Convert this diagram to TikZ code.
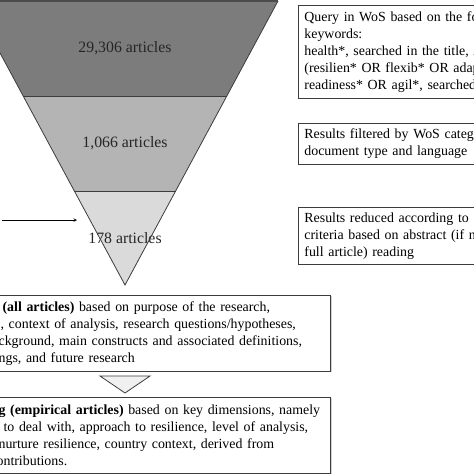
\documentclass[tikz,border=0pt]{standalone}
\usepackage{fontspec}
\setmainfont{Liberation Serif}
\usetikzlibrary{positioning}
\usetikzlibrary{shadows}

\definecolor{bandtop}{HTML}{7C7C7C}
\definecolor{bandmid}{HTML}{B4B4B4}
\definecolor{bandlow}{HTML}{DADADA}
\definecolor{edgegray}{HTML}{3C3C3C}

\begin{document}
\begin{tikzpicture}[x=1pt, y=-1pt, >=stealth,
    note/.style={draw=edgegray, line width=0.8pt, fill=white, align=left,
      inner xsep=6pt, inner ysep=0pt, font=\fontsize{13.9}{17}\selectfont,
      drop shadow={shadow xshift=1pt, shadow yshift=-1pt, fill=black!35}},
    count/.style={font=\fontsize{15.8}{18}\selectfont, text=black!85}]
        \useasboundingbox (0,0) rectangle (474,474);
        \clip (0,0) rectangle (474,474);

        % Funnel bands
        \fill[bandtop] (-28,1) -- (278,1) -- (226.8,96) -- (23.2,96) -- cycle;
        \fill[bandmid] (23.2,96) -- (226.8,96) -- (175.6,191) -- (74.4,191) -- cycle;
        \fill[bandlow] (74.4,191) -- (175.6,191) -- (125,285) -- cycle;

        % Counts
        \node[count] (all) at (125,48) {29,306 articles};
        \node[count] (filtered) at (125,143) {1,066 articles};
        \node[count] (reduced) at (125,238) {178 articles};

        % Funnel outline
        \draw[edgegray, line width=0.8pt] (-28,1) -- (125,285) -- (278,1);
        \draw[edgegray, line width=0.8pt] (23.2,96) -- (226.8,96);
        \draw[edgegray, line width=0.8pt] (74.4,191) -- (175.6,191);
        \draw[black!70, line width=2.5pt] (-28,1) -- (278,1);

        % Steps
        \node[note, anchor=north west, text width=300pt, minimum height=93pt] (query) at (298,5)
          {Query in WoS based on the following\\keywords:\\health*, searched in the title, AND\\(resilien* OR flexib* OR adapt* OR\\readiness* OR agil*, searched in the title};
        \node[note, anchor=north west, text width=300pt, minimum height=41pt] (category) at (298,123)
          {Results filtered by WoS categories,\\document type and language};
        \node[note, anchor=north west, text width=300pt, minimum height=57pt] (abstract) at (298,207)
          {Results reduced according to\\criteria based on abstract (if necessary,\\full article) reading};

        % Input arrow
        \coordinate (src) at (2,220);
        \coordinate (tip) at (77,220);
        \draw[->, line width=0.6pt] (src) -- (tip);

        % Analysis boxes
        \node[note, anchor=north east, text width=325pt, minimum height=76pt] (content) at (331,295)
          {\hspace*{3pt}\textbf{(all articles)} based on purpose of the research,\\
           \hspace*{1pt}, context of analysis, research questions/hypotheses,\\
           \hspace*{-1pt}\llap{ba}ckground, main constructs and associated definitions,\\
           \hspace*{-1pt}\llap{fi}ngs, and future research};
        \path[draw=edgegray, line width=0.8pt, fill=black!6] (100,376) -- (150,376) -- (125,393) -- cycle;
        \node[note, anchor=north east, text width=325pt, minimum height=76pt] (empirical) at (331,397)
          {\hspace*{-1pt}\textbf{g (empirical articles)} based on key dimensions, namely\\
           \hspace*{4pt}to deal with, approach to resilience, level of analysis,\\
           \hspace*{-1pt}nurture resilience, country context, derived from\\
           \hspace*{-3pt}\llap{c}ontributions.};

    \end{tikzpicture}
\end{document}
